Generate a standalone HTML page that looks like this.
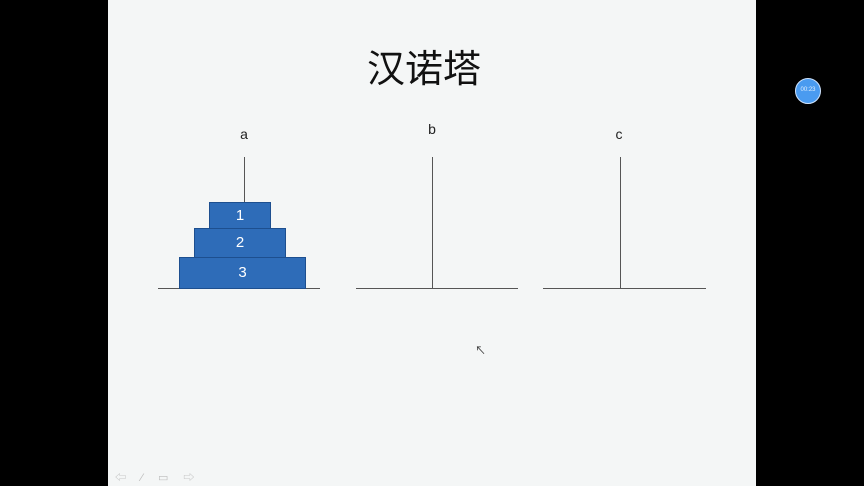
<!DOCTYPE html>
<html><head><meta charset="utf-8"><style>
body{margin:0;width:864px;height:486px;background:#000;position:relative;overflow:hidden;font-family:"Liberation Sans","Noto Sans CJK SC",sans-serif}
.slide{position:absolute;left:108px;top:0;width:648px;height:486px;background:#f4f6f6}
.a{position:absolute}
.line{position:absolute;background:#555}
.disk{position:absolute;background:#2e6cb8;border:1.5px solid #1d4f8f;box-sizing:border-box;color:#fff;font-size:15px;text-align:center}
.lbl{position:absolute;font-size:14px;color:#222;transform:translateX(-50%)}
</style></head><body>
<div class="slide"></div>
<div class="a" style="left:0;width:864px;top:38px;text-align:center;font-size:38px;color:#111;font-family:'Noto Sans CJK SC',sans-serif;padding-left:-10px"><span style="position:relative;left:-8px">汉诺塔</span></div>
<div class="lbl" style="left:244px;top:126px">a</div>
<div class="lbl" style="left:432px;top:121px">b</div>
<div class="lbl" style="left:619px;top:126px">c</div>
<div class="line" style="left:244px;top:157px;width:1px;height:46px"></div>
<div class="line" style="left:432px;top:157px;width:1px;height:132px"></div>
<div class="line" style="left:620px;top:157px;width:1px;height:132px"></div>
<div class="line" style="left:158px;top:288px;width:162px;height:1px"></div>
<div class="line" style="left:356px;top:288px;width:162px;height:1px"></div>
<div class="line" style="left:543px;top:288px;width:163px;height:1px"></div>
<div class="disk" style="left:209px;top:202px;width:62px;height:27px;line-height:25px">1</div>
<div class="disk" style="left:194px;top:228px;width:92px;height:30px;line-height:28px">2</div>
<div class="disk" style="left:179px;top:257px;width:127px;height:32px;line-height:30px">3</div>
<div class="a" style="left:795px;top:78px;width:26px;height:26px;border-radius:50%;background:#4a9bf0;border:1.5px solid #cfe4ff;box-sizing:border-box;color:#dfefff;font-size:6px;text-align:center;line-height:23px">00:23</div>
<div class="a" style="left:475px;top:342px;font-size:11px;color:#333">↖</div>
<div class="a" style="left:115px;top:469px;font-size:11px;color:#bbb;letter-spacing:6px">⇦ ⁄ ▭ ⇨</div>
</body></html>
